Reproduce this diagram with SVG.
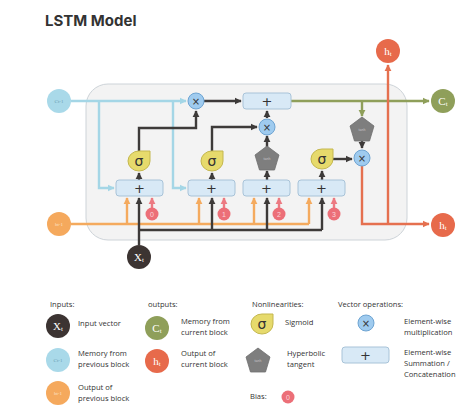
<svg xmlns="http://www.w3.org/2000/svg" width="474" height="416" viewBox="0 0 474 416">
<defs>
<style>
.t{font-family:"Open Sans","Liberation Sans",sans-serif;fill:#333;font-size:7.6px}
.title{font-family:"Inter","Liberation Sans",sans-serif;font-weight:bold;font-size:15px;fill:#333}
.ln{fill:none;stroke-width:2.4;stroke-linejoin:miter}
.k{stroke:#3d3a39}
.b{stroke:#a4d6e6}
.o{stroke:#f4aa5e}
.p{stroke:#ec7a82}
.g{stroke:#8f9f5a}
.r{stroke:#e5704f}
.box{fill:#d8e9f6;stroke:#a8c3d8;stroke-width:1}
.mul{fill:#9fcbef;stroke:#6ea4d2;stroke-width:1}
.sig{fill:#e6da6c;stroke:#c4b74e;stroke-width:1}
.tanh{fill:#7e7e7e;stroke:#6e6e6e;stroke-width:0.8;stroke-linejoin:round}
.sym{font-family:"DejaVu Sans","Liberation Sans",sans-serif;fill:#333;text-anchor:middle}
.wt{font-family:"Liberation Serif",serif;fill:#fff;text-anchor:middle}
.tt{font-family:"Liberation Sans",sans-serif;fill:#c8c8c8;font-size:3.5px;text-anchor:middle}
</style>
<marker id="ak" viewBox="0 0 10 10" refX="9" refY="5" markerWidth="3" markerHeight="3" orient="auto" markerUnits="strokeWidth"><path d="M0,0L10,5L0,10z" fill="#3d3a39"/></marker>
<marker id="ab" viewBox="0 0 10 10" refX="9" refY="5" markerWidth="3" markerHeight="3" orient="auto" markerUnits="strokeWidth"><path d="M0,0L10,5L0,10z" fill="#a4d6e6"/></marker>
<marker id="ao" viewBox="0 0 10 10" refX="9" refY="5" markerWidth="3" markerHeight="3" orient="auto" markerUnits="strokeWidth"><path d="M0,0L10,5L0,10z" fill="#f4aa5e"/></marker>
<marker id="ap" viewBox="0 0 10 10" refX="9" refY="5" markerWidth="3" markerHeight="3" orient="auto" markerUnits="strokeWidth"><path d="M0,0L10,5L0,10z" fill="#ec7a82"/></marker>
<marker id="ag" viewBox="0 0 10 10" refX="9" refY="5" markerWidth="3" markerHeight="3" orient="auto" markerUnits="strokeWidth"><path d="M0,0L10,5L0,10z" fill="#8f9f5a"/></marker>
<marker id="ar" viewBox="0 0 10 10" refX="9" refY="5" markerWidth="3" markerHeight="3" orient="auto" markerUnits="strokeWidth"><path d="M0,0L10,5L0,10z" fill="#e5704f"/></marker>
</defs>
<rect width="474" height="416" fill="#fff"/>
<text class="title" x="45" y="26">LSTM Model</text>

<rect id="cell" x="86" y="84" width="321" height="156" rx="22" fill="#f3f3f3" stroke="#cdd3d8" stroke-width="1"/>

<g id="connectors">
<!-- memory line -->
<path class="ln b" d="M71,101H186" marker-end="url(#ab)"/>
<path class="ln b" d="M99,101V188H114" marker-end="url(#ab)"/>
<path class="ln b" d="M173,101V188H186" marker-end="url(#ab)"/>
<!-- h_{t-1} -->
<path class="ln o" d="M71,224H309"/>
<path class="ln o" d="M127,224V198" marker-end="url(#ao)"/>
<path class="ln o" d="M199,224V198" marker-end="url(#ao)"/>
<path class="ln o" d="M254,224V198" marker-end="url(#ao)"/>
<path class="ln o" d="M309,224V198" marker-end="url(#ao)"/>
<!-- X_t -->
<path class="ln k" d="M139,245V198" marker-end="url(#ak)"/>
<path class="ln k" d="M139,230H322"/>
<path class="ln k" d="M212,230V198" marker-end="url(#ak)"/>
<path class="ln k" d="M267,230V198" marker-end="url(#ak)"/>
<path class="ln k" d="M322,230V198" marker-end="url(#ak)"/>
<!-- bias -->
<path class="ln p" d="M152,208V198" marker-end="url(#ap)"/>
<path class="ln p" d="M224,208V198" marker-end="url(#ap)"/>
<path class="ln p" d="M279,208V198" marker-end="url(#ap)"/>
<path class="ln p" d="M334,208V198" marker-end="url(#ap)"/>
<!-- boxes to activations -->
<path class="ln k" d="M139,180V173" marker-end="url(#ak)"/>
<path class="ln k" d="M212,180V173" marker-end="url(#ak)"/>
<path class="ln k" d="M267,180V171" marker-end="url(#ak)"/>
<path class="ln k" d="M322,180V171" marker-end="url(#ak)"/>
<!-- forget gate -->
<path class="ln k" d="M139,151V128H196V111" marker-end="url(#ak)"/>
<path class="ln k" d="M204,101H241" marker-end="url(#ak)"/>
<!-- input gate -->
<path class="ln k" d="M212,151V127H257" marker-end="url(#ak)"/>
<path class="ln k" d="M267,147V136" marker-end="url(#ak)"/>
<path class="ln k" d="M267,118V111" marker-end="url(#ak)"/>
<!-- C_t -->
<path class="ln g" d="M291,101H429" marker-end="url(#ag)"/>
<path class="ln g" d="M362,101V116" marker-end="url(#ag)"/>
<!-- output gate -->
<path class="ln k" d="M333,159H352" marker-end="url(#ak)"/>
<path class="ln k" d="M362,141V148" marker-end="url(#ak)"/>
<path class="ln r" d="M362,166V224H429" marker-end="url(#ar)"/>
<path class="ln r" d="M388,224V65" marker-end="url(#ar)"/>
</g>

<g id="c_prev"><circle cx="59" cy="101" r="12" fill="#a9d9e9"/><text x="59" y="103" font-family="Liberation Serif,serif" font-size="5" fill="#6a9fb3" text-anchor="middle">Ct-1</text></g>
<g id="h_prev"><circle cx="59" cy="224" r="12" fill="#f5a95d"/><text x="59" y="226" font-family="Liberation Serif,serif" font-size="5" fill="#fde3c4" text-anchor="middle">ht-1</text></g>
<g id="x_t"><circle cx="139" cy="257" r="12" fill="#3c3432"/><text class="wt" x="139" y="261" font-size="11" font-family="Liberation Sans,sans-serif">X<tspan font-size="7" dy="1">t</tspan></text></g>
<g id="c_t"><circle cx="443" cy="101" r="12" fill="#8f9f5a"/><text class="wt" x="443" y="105" font-size="11">C<tspan font-size="7" dy="1">t</tspan></text></g>
<g id="h_t_top"><circle cx="388" cy="51" r="12" fill="#e76a4b"/><text class="wt" x="388" y="55" font-size="11">h<tspan font-size="7" dy="1">t</tspan></text></g>
<g id="h_t_right"><circle cx="443" cy="225" r="12" fill="#e76a4b"/><text class="wt" x="443" y="229" font-size="11">h<tspan font-size="7" dy="1">t</tspan></text></g>

<g id="box1"><rect class="box" x="116" y="180" width="47" height="16" rx="3"/><text class="sym" x="139.5" y="192.5" font-size="13">+</text></g>
<g id="box2"><rect class="box" x="188" y="180" width="47" height="16" rx="3"/><text class="sym" x="211.5" y="192.5" font-size="13">+</text></g>
<g id="box3"><rect class="box" x="243" y="180" width="47" height="16" rx="3"/><text class="sym" x="266.5" y="192.5" font-size="13">+</text></g>
<g id="box4"><rect class="box" x="298" y="180" width="47" height="16" rx="3"/><text class="sym" x="321.5" y="192.5" font-size="13">+</text></g>
<g id="boxc"><rect class="box" x="243" y="93" width="48" height="16" rx="3"/><text class="sym" x="267" y="105.5" font-size="13">+</text></g>

<g id="mul_f"><circle class="mul" cx="196" cy="101" r="8"/><text class="sym" x="196" y="104.5" font-size="10">×</text></g>
<g id="mul_i"><circle class="mul" cx="267" cy="127" r="8"/><text class="sym" x="267" y="130.5" font-size="10">×</text></g>
<g id="mul_o"><circle class="mul" cx="362" cy="158" r="8"/><text class="sym" x="362" y="161.5" font-size="10">×</text></g>

<g id="sig1"><path class="sig" d="M128,161A11,10 0 0 1 139,151H150V161A11,10 0 0 1 139,171A11,10 0 0 1 128,161Z"/><text class="sym" x="139" y="166" font-size="14" font-family="Liberation Sans,sans-serif">σ</text></g>
<g id="sig2"><path class="sig" d="M201,161A11,10 0 0 1 212,151H223V161A11,10 0 0 1 212,171A11,10 0 0 1 201,161Z"/><text class="sym" x="212" y="166" font-size="14" font-family="Liberation Sans,sans-serif">σ</text></g>
<g id="sig4"><path class="sig" d="M311,159A11,10 0 0 1 322,149H333V159A11,10 0 0 1 322,169A11,10 0 0 1 311,159Z"/><text class="sym" x="322" y="164" font-size="14" font-family="Liberation Sans,sans-serif">σ</text></g>
<g id="tanh1"><polygon class="tanh" points="267,146 279,155 274.5,170 259.5,170 255,155"/><text class="tt" x="267" y="160">tanh</text></g>
<g id="tanh2"><polygon class="tanh" points="362,117 374,126 369.5,141 354.5,141 350,126"/><text class="tt" x="362" y="131">tanh</text></g>

<g id="bias0"><circle cx="152" cy="214" r="6.5" fill="#ec6f78"/><text x="152" y="216.5" font-size="7" fill="#fbd5d8" text-anchor="middle" font-family="Liberation Sans,sans-serif">0</text></g>
<g id="bias1"><circle cx="224" cy="214" r="6.5" fill="#ec6f78"/><text x="224" y="216.5" font-size="7" fill="#fbd5d8" text-anchor="middle" font-family="Liberation Sans,sans-serif">1</text></g>
<g id="bias2"><circle cx="279" cy="214" r="6.5" fill="#ec6f78"/><text x="279" y="216.5" font-size="7" fill="#fbd5d8" text-anchor="middle" font-family="Liberation Sans,sans-serif">2</text></g>
<g id="bias3"><circle cx="334" cy="214" r="6.5" fill="#ec6f78"/><text x="334" y="216.5" font-size="7" fill="#fbd5d8" text-anchor="middle" font-family="Liberation Sans,sans-serif">3</text></g>

<g id="legend">
<text class="t" x="50" y="307">Inputs:</text>
<circle cx="58" cy="326" r="12" fill="#3c3432"/><text class="wt" x="58" y="330" font-size="11" font-family="Liberation Sans,sans-serif">X<tspan font-size="7" dy="1">t</tspan></text>
<text class="t" x="78" y="326">Input vector</text>
<circle cx="58" cy="360" r="12" fill="#a9d9e9"/><text x="58" y="362" font-family="Liberation Serif,serif" font-size="5" fill="#6a9fb3" text-anchor="middle">Ct-1</text>
<text class="t" x="78" y="356">Memory from</text><text class="t" x="78" y="367">previous block</text>
<circle cx="58" cy="393" r="12" fill="#f5a95d"/><text x="58" y="395" font-family="Liberation Serif,serif" font-size="5" fill="#fde3c4" text-anchor="middle">ht-1</text>
<text class="t" x="78" y="390">Output of</text><text class="t" x="78" y="401">previous block</text>

<text class="t" x="148" y="307">outputs:</text>
<circle cx="157" cy="328" r="12" fill="#8f9f5a"/><text class="wt" x="157" y="332" font-size="11">C<tspan font-size="7" dy="1">t</tspan></text>
<text class="t" x="181" y="324">Memory from</text><text class="t" x="181" y="335">current block</text>
<circle cx="157" cy="361" r="12" fill="#e76a4b"/><text class="wt" x="157" y="365" font-size="11">h<tspan font-size="7" dy="1">t</tspan></text>
<text class="t" x="181" y="356">Output of</text><text class="t" x="181" y="367">current block</text>

<text class="t" x="252" y="307">Nonlinearities:</text>
<path class="sig" d="M251,324A11,10 0 0 1 262,314H273V324A11,10 0 0 1 262,334A11,10 0 0 1 251,324Z"/><text class="sym" x="262" y="329" font-size="14" font-family="Liberation Sans,sans-serif">σ</text>
<text class="t" x="285" y="325">Sigmoid</text>
<polygon class="tanh" points="258,348 270,357 265.5,372 250.5,372 246,357"/><text class="tt" x="258" y="362">tanh</text>
<text class="t" x="287" y="356">Hyperbolic</text><text class="t" x="287" y="367">tangent</text>

<text class="t" x="338" y="307">Vector operations:</text>
<circle class="mul" cx="366" cy="323" r="8"/><text class="sym" x="366" y="326.5" font-size="10">×</text>
<text class="t" x="404" y="324">Element-wise</text><text class="t" x="404" y="335">multiplication</text>
<rect class="box" x="342" y="347" width="47" height="16" rx="3"/><text class="sym" x="365.5" y="359.5" font-size="13">+</text>
<text class="t" x="404" y="355">Element-wise</text><text class="t" x="404" y="366">Summation /</text><text class="t" x="404" y="377">Concatenation</text>

<text class="t" x="250" y="399">Bias:</text>
<circle cx="288" cy="397" r="6.5" fill="#ec6f78"/><text x="288" y="399.5" font-size="7" fill="#fbd5d8" text-anchor="middle" font-family="Liberation Sans,sans-serif">0</text>
</g>
</svg>
